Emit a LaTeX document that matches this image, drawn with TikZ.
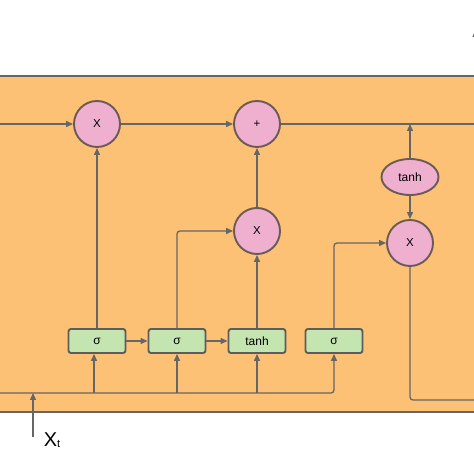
\documentclass[tikz,border=0pt]{standalone}
\usepackage{fontspec}
\setmainfont{Liberation Sans}
\usetikzlibrary{arrows.meta, shapes.geometric}
\definecolor{cellfill}{HTML}{FCC174}
\definecolor{opfill}{HTML}{EFB0CF}
\definecolor{gatefill}{HTML}{C5E5B0}
\definecolor{linegray}{HTML}{666666}
\definecolor{opborder}{HTML}{6B5A55}
\begin{document}
\begin{tikzpicture}[x=1pt, y=1pt, node distance=80pt, line width=1.3pt,
    >={Triangle[length=7pt, width=6pt]},
    op/.style={circle, draw=opborder, fill=opfill, line width=1.9pt, minimum size=46pt, inner sep=0pt, font=\fontsize{11.5}{13}\selectfont},
    gatebox/.style={rectangle, draw=linegray!90!black, fill=gatefill, line width=1.9pt, rounded corners=2.5pt, minimum width=57pt, minimum height=24pt, inner sep=0pt, font=\fontsize{12}{14}\selectfont},
    wire/.style={draw=linegray}]

    \useasboundingbox (0,0) rectangle (474,474);
    \clip (0,0) rectangle (474,474);

    % Cell background
    \fill[cellfill] (-5,62) rectangle (480,398);
    \draw[linegray, line width=1.6pt] (-5,398) -- (480,398);
    \draw[linegray, line width=1.6pt] (-5,62) -- (480,62);

    % Gates
    \node (sig1) [gatebox] at (97,133) {σ};
    \node (sig2) [gatebox, right of=sig1] {σ};
    \node (tanhg) [gatebox, right of=sig2] {tanh};
    \node (sig3) [gatebox, right of=tanhg, xshift=-3pt] {σ};

    % Pointwise operations
    \node (mulf) [op, above of=sig1, yshift=137pt] {X};
    \node (muli) [op, above of=tanhg, yshift=30pt] {X};
    \node (plus) [op, above of=muli, yshift=27pt] {+};
    \node (mulo) [op] at (410,231) {X};
    \node (tanhc) [op, ellipse, minimum size=0pt, minimum width=57pt, minimum height=36pt, font=\fontsize{12}{14}\selectfont, above of=mulo, yshift=-14pt] {tanh};

    % Free ends
    \coordinate (cin) at (-5,350);
    \coordinate (cout) at (480,350);
    \coordinate (xin) at (-5,81);
    \coordinate (hout) at (480,74);
    \coordinate (xtail) at (33,37);
    \coordinate (hbase) at (475.5,398);
    \coordinate (htop) at (475.5,444);

    % Cell state
    \draw[wire, ->] (cin) -- (mulf);
    \draw[wire, ->] (mulf) -- (plus);
    \draw[wire] (plus) -- (cout);

    % Input line
    \draw[wire, ->, rounded corners=3pt] (xin) -| (sig3);
    \draw[wire, ->] ([xshift=-3pt]sig1.south |- xin) -- ([xshift=-3pt]sig1.south);
    \foreach \g in {sig2, tanhg}
        \draw[wire, ->] (\g |- xin) -- (\g);
    \draw[wire, ->] (xtail) -- (xtail |- xin);
    \node (xt) at (52,34) {\fontsize{20}{20}\selectfont X\raisebox{-1pt}{\fontsize{11}{11}\selectfont t}};

    % Gate outputs
    \draw[wire, ->] (sig1) -- (mulf);
    \draw[wire, ->] (sig1) -- (sig2);
    \draw[wire, ->] (sig2) -- (tanhg);
    \draw[wire, ->, rounded corners=3pt] (sig2.north) |- (muli.west);
    \draw[wire, ->] (tanhg) -- (muli);
    \draw[wire, ->] (muli) -- (plus);
    \draw[wire, ->, rounded corners=3pt] (sig3.north) |- (mulo.west);

    % Output
    \draw[wire, ->] (tanhc.north) -- (tanhc.north |- cout);
    \draw[wire, ->] (tanhc) -- (mulo);
    \draw[wire, rounded corners=3pt] (mulo.south) |- (hout);
    \draw[wire, ->] (hbase) -- (htop);

\end{tikzpicture}
\end{document}
